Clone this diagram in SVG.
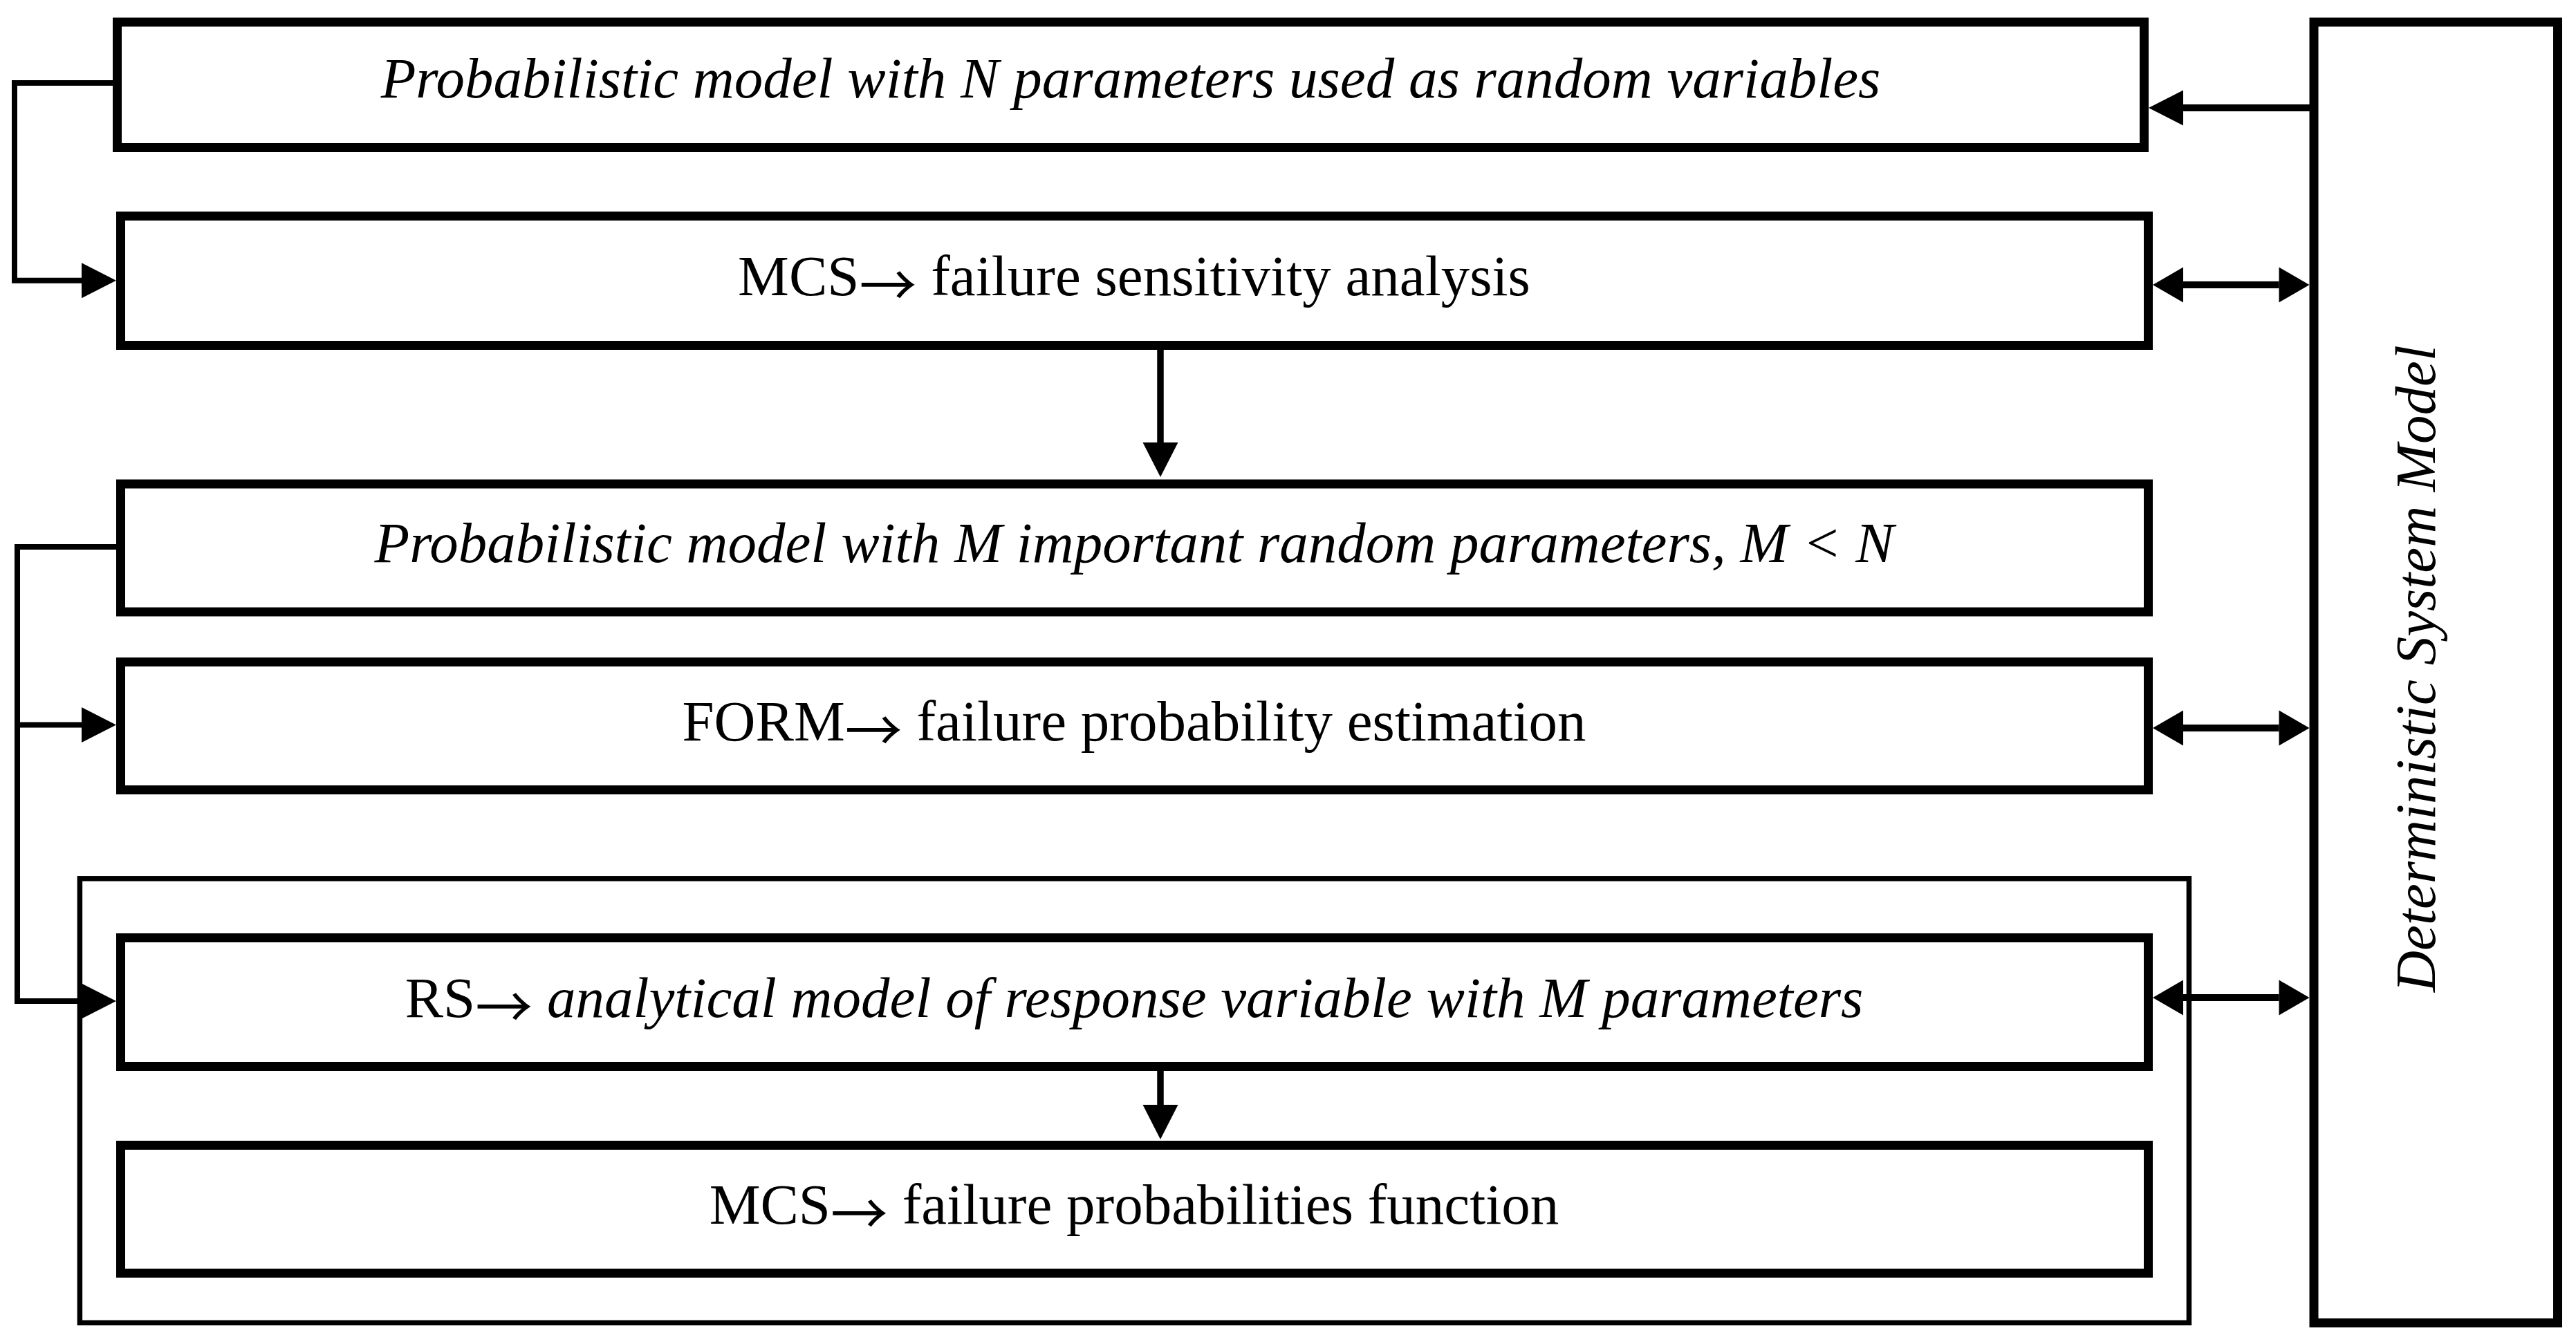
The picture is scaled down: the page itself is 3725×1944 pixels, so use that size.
<svg xmlns="http://www.w3.org/2000/svg" width="3725" height="1944" viewBox="0 0 3725 1944">
<style>
.box{fill:none;stroke:#000;stroke-width:13}
.outer{fill:none;stroke:#000;stroke-width:7.5}
.lbl{font-family:"Liberation Serif","Times New Roman",serif;font-size:83px;fill:#000;text-anchor:middle}
.it{font-style:italic}
.arr{font-family:"Noto Sans CJK JP","Liberation Serif",sans-serif;font-style:normal}
.con{fill:none;stroke:#000;stroke-linejoin:miter}
.left{stroke-width:8;stroke-linecap:square}
.v{stroke-width:9.5}
.h{stroke-width:10}
</style>
<defs>
<marker id="ah" markerUnits="userSpaceOnUse" markerWidth="52" markerHeight="54" refX="0" refY="0" viewBox="0 -27 52 54" orient="auto" overflow="visible">
<path d="M0,-25.5 L50,0 L0,25.5 Z" fill="#000"/>
</marker>
<marker id="ah2" markerUnits="userSpaceOnUse" markerWidth="46" markerHeight="54" refX="0" refY="0" viewBox="0 -27 46 54" orient="auto-start-reverse" overflow="visible">
<path d="M0,-25.5 L44,0 L0,25.5 Z" fill="#000"/>
</marker>
</defs>
<rect width="3725" height="1944" fill="#fff"/>
<g id="container">
<rect class="outer" x="115.4" y="1270.8" width="3050" height="642.5"/>
</g>
<g id="node-prob-n">
<rect class="box" x="169.5" y="32" width="2931" height="181.5"/>
<text class="lbl it" x="1635" y="141">Probabilistic model with N parameters used as random variables</text>
</g>
<g id="node-mcs-sens">
<rect class="box" x="174.5" y="312.5" width="2932" height="187"/>
<text class="lbl" x="1640" y="427">MCS<tspan class="arr" dy="16">→</tspan><tspan dy="-16"> failure sensitivity analysis</tspan></text>
</g>
<g id="node-prob-m">
<rect class="box" x="174.5" y="700" width="2932" height="185"/>
<text class="lbl it" x="1640" y="813">Probabilistic model with M important random parameters, M &lt; N</text>
</g>
<g id="node-form">
<rect class="box" x="174.5" y="957.5" width="2932" height="185"/>
<text class="lbl" x="1640" y="1071">FORM<tspan class="arr" dy="16">→</tspan><tspan dy="-16"> failure probability estimation</tspan></text>
</g>
<g id="node-rs">
<rect class="box" x="174.5" y="1356.5" width="2932" height="186"/>
<text class="lbl" x="1640" y="1471">RS<tspan class="arr" dy="16">→</tspan><tspan dy="-16"> </tspan><tspan class="it">analytical model of response variable with M parameters</tspan></text>
</g>
<g id="node-mcs-fp">
<rect class="box" x="174.5" y="1656.5" width="2932" height="185"/>
<text class="lbl" x="1640" y="1770">MCS<tspan class="arr" dy="16">→</tspan><tspan dy="-16"> failure probabilities function</tspan></text>
</g>
<g id="node-det">
<rect class="box" x="3346" y="32" width="352.5" height="1881.5"/>
<text class="lbl it" transform="translate(3521,967) rotate(-90)" x="0" y="0">Deterministic System Model</text>
</g>
<g id="connectors">
<path class="con left" d="M163,120 H21 V405.7 H118" marker-end="url(#ah)"/>
<path class="con left" d="M168,791 H25 V1448 H118" marker-end="url(#ah)"/>
<path class="con left" d="M25,1048.4 H118" marker-end="url(#ah)"/>
<path class="con v" d="M1678,506 V640" marker-end="url(#ah)"/>
<path class="con v" d="M1678,1549 V1598" marker-end="url(#ah)"/>
<path class="con h" d="M3340,156 H3157" marker-end="url(#ah)"/>
<path class="con h" d="M3157,412 H3295.5" marker-start="url(#ah2)" marker-end="url(#ah2)"/>
<path class="con h" d="M3157,1053 H3295.5" marker-start="url(#ah2)" marker-end="url(#ah2)"/>
<path class="con h" d="M3157,1443 H3295.5" marker-start="url(#ah2)" marker-end="url(#ah2)"/>
</g>
</svg>
